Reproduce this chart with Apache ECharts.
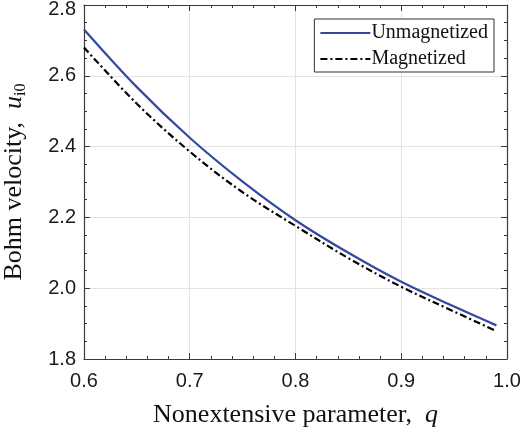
<!DOCTYPE html>
<html>
<head>
<meta charset="utf-8">
<script src="https://cdn.jsdelivr.net/npm/echarts@6/dist/echarts.min.js"></script>
<style>html,body{margin:0;padding:0;background:#fff}#c{width:520px;height:430px}</style>
</head>
<body>
<div id="c"></div>
<script>
const qValues = [0.60, 0.65, 0.70, 0.75, 0.80, 0.85, 0.90, 0.95, 0.99];
const unmagnetized = [2.731, 2.568, 2.425, 2.301, 2.192, 2.100, 2.018, 1.948, 1.895];
const magnetized   = [2.680, 2.521, 2.386, 2.271, 2.176, 2.085, 2.004, 1.934, 1.879];
const seriesNames = ['Unmagnetized', 'Magnetized'];
const xTicks = [0.6, 0.7, 0.8, 0.9, 1.0];
const yTicks = [1.8, 2.0, 2.2, 2.4, 2.6, 2.8];

const pairs = (ys) => qValues.map((q, i) => [q, ys[i]]);
const axisCol = '#3a3a3a';
const tickFont = {fontFamily: 'Liberation Sans', fontSize: 20, color: '#1a1a1a'};

function boxAxis(pos, isX, main) {
  const top = isX ? xTicks[xTicks.length - 1] : yTicks[yTicks.length - 1];
  return {
    type: 'value',
    position: pos,
    min: isX ? xTicks[0] : yTicks[0],
    max: top,
    interval: isX ? 0.1 : 0.2,
    axisLine: {show: true, onZero: false, lineStyle: {color: axisCol, width: 1.2}},
    axisTick: {show: true, inside: true, length: 6, lineStyle: {color: axisCol, width: 1}},
    minorTick: {show: true, splitNumber: isX ? 5 : 4, length: 3, lineStyle: {color: axisCol, width: 1}},
    splitLine: {show: main, lineStyle: {color: '#e3e3e3', width: 1}},
    axisLabel: main ? Object.assign({
      show: true,
      margin: isX ? 12 : 8,
      formatter: (v) => (!isX && Math.abs(v - top) < 1e-9) ? '{t|' + v.toFixed(1) + '}' : v.toFixed(1),
      rich: {t: Object.assign({padding: [8, 0, 0, 0]}, tickFont)}
    }, tickFont) : {show: false}
  };
}

const xMain = boxAxis('bottom', true, true);
xMain.name = '{n|Nonextensive parameter,  }{i|q}';
xMain.nameLocation = 'middle';
xMain.nameGap = 43;
xMain.nameTextStyle = {
  rich: {
    n: {fontFamily: 'Liberation Serif', fontSize: 26, color: '#111'},
    i: {fontFamily: 'Liberation Serif', fontSize: 26, fontStyle: 'italic', color: '#111'}
  }
};
const yMain = boxAxis('left', false, true);
yMain.name = '{n|Bohm velocity,  }{i|u}{s|i0}';
yMain.nameLocation = 'middle';
yMain.nameRotate = 90;
yMain.nameGap = 54;
yMain.nameTextStyle = {
  rich: {
    n: {fontFamily: 'Liberation Serif', fontSize: 26, color: '#111', lineHeight: 32},
    i: {fontFamily: 'Liberation Serif', fontSize: 26, fontStyle: 'italic', color: '#111', lineHeight: 32},
    s: {fontFamily: 'Liberation Serif', fontSize: 16, color: '#111', lineHeight: 32, padding: [14, 0, 0, 0]}
  }
};

const chart = echarts.init(document.getElementById('c'), null, {renderer: 'canvas'});
chart.setOption({
  animation: false,
  backgroundColor: '#fff',
  grid: {left: 84, right: 13, top: 5, bottom: 71, containLabel: false, outerBoundsMode: 'none'},
  legend: {
    orient: 'vertical',
    right: 26,
    top: 19,
    data: seriesNames,
    itemWidth: 50,
    itemHeight: 14,
    itemGap: 6,
    padding: [4, 6, 3, 5],
    borderColor: '#333',
    borderWidth: 1,
    backgroundColor: '#fff',
    itemStyle: {opacity: 0},
    textStyle: {fontFamily: 'Liberation Serif', fontSize: 20, color: '#111', padding: [0, 0, 0, -4]}
  },
  xAxis: [xMain, boxAxis('top', true, false)],
  yAxis: [yMain, boxAxis('right', false, false)],
  series: [
    {
      name: seriesNames[0], type: 'line', data: pairs(unmagnetized), smooth: 0.35,
      symbol: 'none', xAxisIndex: 0, yAxisIndex: 0,
      lineStyle: {color: '#3349a0', width: 2.2}, itemStyle: {color: '#3349a0'}
    },
    {
      name: seriesNames[1], type: 'line', data: pairs(magnetized), smooth: 0.35,
      symbol: 'none', xAxisIndex: 0, yAxisIndex: 0,
      lineStyle: {color: '#000', width: 2.2, type: [7, 3, 2, 3]}, itemStyle: {color: '#000'}
    }
  ]
});
</script>
</body>
</html>
